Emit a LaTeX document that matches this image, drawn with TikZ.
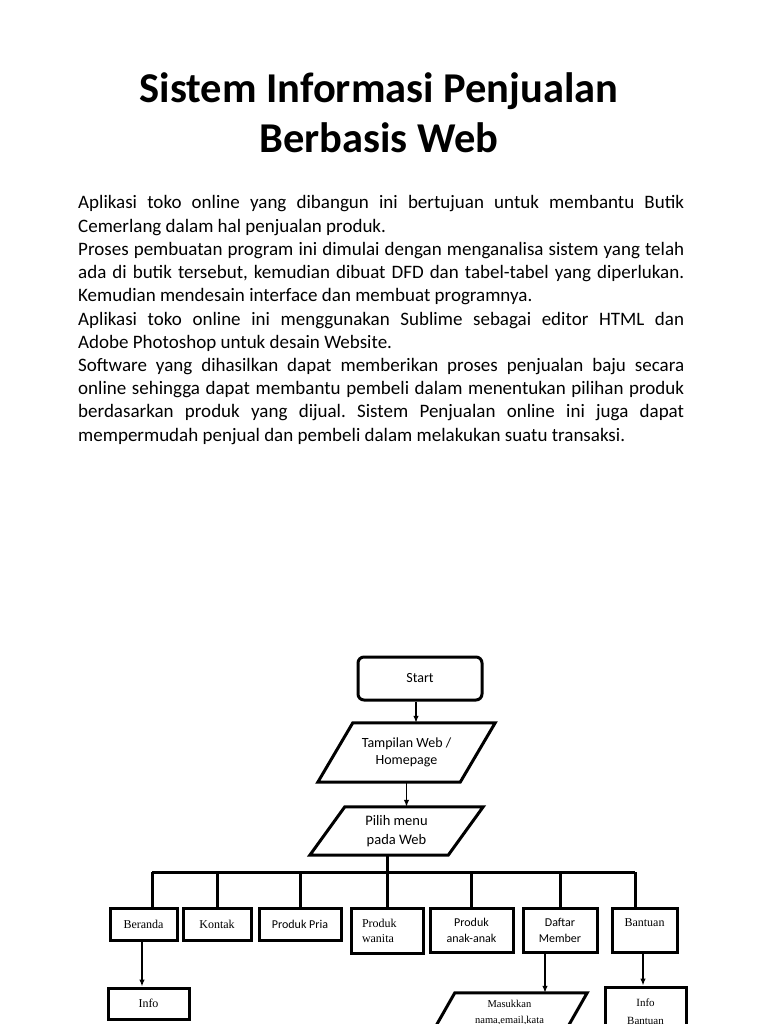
\documentclass[tikz,border=0pt]{standalone}
\usepackage{fontspec}
\setmainfont{Carlito}
\newfontfamily\timesfont{Liberation Serif}
\usetikzlibrary{positioning,arrows.meta}
\hyphenpenalty=10000
\frenchspacing
\tikzstyle{menu}=[draw,line width=3pt,inner sep=1pt,align=center,font=\fontsize{12}{16}\selectfont]
\tikzstyle{times}=[font=\timesfont\fontsize{12}{15}\selectfont]
\tikzstyle{data}=[inner sep=1pt,align=center,font=\fontsize{14}{17}\selectfont]
\tikzstyle{dataline}=[line width=3pt,line join=miter]
\tikzstyle{bus}=[line width=3pt]
\tikzstyle{link}=[->,line width=1.3pt]
\newcommand{\newMenu}[5]{\node[menu,minimum width=#4,minimum height=#5,#3](#1){#2};}
\newcommand{\newData}[6]{%
  \node[data,minimum width=#4,minimum height=#5,#3](#1){#2};
  \draw[dataline] ([xshift=#6/2]#1.north west) -- ([xshift=#6/2]#1.north east)
    -- ([xshift=-#6/2]#1.south east) -- ([xshift=-#6/2]#1.south west) -- cycle;}
\newcommand{\newLink}[3]{\draw[link] ([xshift=#3]#1.south) -- ([xshift=#3]#1.south |- #2.north);}

\begin{document}
\begin{tikzpicture}[x=1pt,y=-1pt,>={Latex[length=7pt,width=5.5pt]}]
  \useasboundingbox (0,0) rectangle (768,1024);
  % heading and description
  \node[font=\bfseries\fontsize{42.5}{50}\selectfont,align=center,anchor=base,inner sep=0pt]
    (title) at (379,153) {Sistem Informasi Penjualan\\Berbasis Web};
  \node[text width=606pt,align=justify,anchor=base west,inner sep=0pt,
    font=\fontsize{19}{23.2}\selectfont] (intro) at (78,209)
    {Aplikasi toko online yang dibangun ini bertujuan untuk membantu Butik\linebreak
     Cemerlang dalam hal penjualan produk.\par
     Proses pembuatan program ini dimulai dengan menganalisa sistem yang telah\linebreak
     ada di butik tersebut, kemudian dibuat DFD dan tabel-tabel yang diperlukan.\linebreak
     Kemudian mendesain interface dan membuat programnya.\par
     Aplikasi toko online ini menggunakan Sublime sebagai editor HTML dan\linebreak
     Adobe Photoshop untuk desain Website.\par
     Software yang dihasilkan dapat memberikan proses penjualan baju secara\linebreak
     online sehingga dapat membantu pembeli dalam menentukan pilihan produk\linebreak
     berdasarkan produk yang dijual. Sistem Penjualan online ini juga dapat\linebreak
     mempermudah penjual dan pembeli dalam melakukan suatu transaksi.\par};
  % flowchart
  \newMenu{start}{Start}{rounded corners=6pt,font=\fontsize{14}{17}\selectfont,at={(420,678.5)}}{124pt}{43pt}
  \newData{tamp}{Tampilan Web /\\Homepage}{at={(406.5,752.5)}}{142pt}{59pt}{35pt}
  \newData{pilih}{Pilih menu\\pada Web}{at={(396.5,831)},font=\fontsize{14.5}{19}\selectfont}{138pt}{48pt}{35pt}
  \newMenu{beranda}{Beranda}{times,at={(143.5,924)}}{67pt}{32pt}
  \newMenu{kontak}{Kontak}{times,at={(217,924)}}{68pt}{32pt}
  \newMenu{pria}{Produk Pria}{at={(300,924)}}{82pt}{32pt}
  \newMenu{wanita}{Produk\\wanita}{times,align=left,text width=50pt,at={(387,930.5)}}{72pt}{45pt}
  \newMenu{anak}{Produk\\anak-anak}{at={(471.5,930)}}{83pt}{44pt}
  \newMenu{daftar}{Daftar\\Member}{at={(560,930)}}{74pt}{44pt}
  \newMenu{bantuan}{Bantuan}{times,text depth=14pt,at={(644.5,930)}}{65pt}{44pt}
  \newMenu{info}{Info}{times,at={(148.5,1003.5)}}{81pt}{31pt}
  \newData{masuk}{Masukkan\\nama,email,kata}{at={(509.5,1013)},font=\timesfont\fontsize{10.5}{16}\selectfont}{132pt}{40pt}{23pt}
  \newMenu{infob}{Info\\Bantuan}{font=\timesfont\fontsize{11}{18}\selectfont,at={(645.5,1012)}}{81pt}{50pt}
  % menu bus
  \coordinate (busL) at (152,872);
  \coordinate (busR) at (635,872);
  \draw[bus] (busL) -- (busR);
  \draw[bus] (busL) -- (busL |- beranda.north);
  \foreach \m in {kontak,pria,anak,daftar}
    \draw[bus] (\m.north |- busL) -- (\m.north);
  \draw[bus] (pilih.south -| wanita.north) -- (wanita.north);
  \draw[bus] (busR) -- (busR |- bantuan.north);
  % arrows
  \newLink{start}{tamp}{-4pt}
  \newLink{tamp}{pilih}{0pt}
  \newLink{beranda}{info}{-1.5pt}
  \newLink{daftar}{masuk}{-15pt}
  \newLink{bantuan}{infob}{-1.5pt}
\end{tikzpicture}
\end{document}
